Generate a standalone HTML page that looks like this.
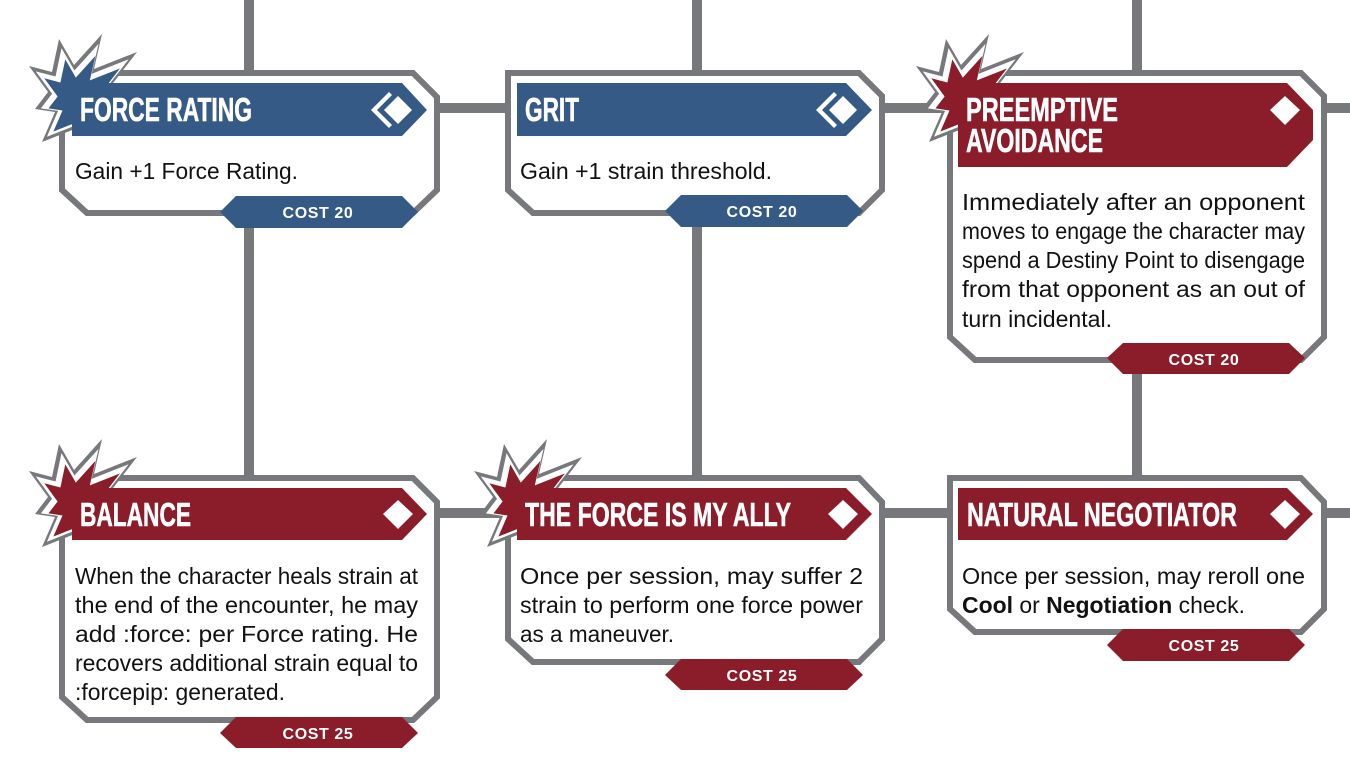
<!DOCTYPE html>
<html><head><meta charset="utf-8"><style>
html,body{margin:0;padding:0;background:#fff;}
svg{display:block;}
.h{font-family:"Liberation Sans Narrow","Liberation Sans",sans-serif;font-weight:bold;fill:#fff;font-size:33px;stroke:#fff;stroke-width:0.6;}
.b{font-family:"Liberation Sans Narrow","Liberation Sans",sans-serif;fill:#111;font-size:23px;}
.c{font-family:"Liberation Sans",sans-serif;font-weight:bold;fill:#fff;font-size:16px;letter-spacing:0.6px;}
</style></head><body>
<svg width="1350" height="777" viewBox="0 0 1350 777" xmlns="http://www.w3.org/2000/svg">
<defs>
<polygon id="star" points="-41,-31 -18,-25 -11,-58 4,-32 32,-63 24,-28 67,-45 40,-10 40,20 10,30 -28,45 -15,15 -35,12 -22,-5"/>
</defs>
<g fill="#77787b">
<rect x="244" y="0" width="10" height="480"/>
<rect x="692" y="0" width="10" height="480"/>
<rect x="1132" y="0" width="10" height="480"/>
<rect x="436" y="103" width="72" height="10"/>
<rect x="882" y="103" width="70" height="10"/>
<rect x="1323" y="103" width="27" height="10"/>
<rect x="436" y="508" width="72" height="10"/>
<rect x="882" y="508" width="70" height="10"/>
<rect x="1323" y="508" width="27" height="10"/>
</g>
<g fill="#fff" stroke="#77787b" stroke-width="6" stroke-linejoin="miter">
<path d="M62,73 L413,73 L437,97 L437,190 L413,213 L87,213 L62,190 Z"/>
<path d="M508,73 L859,73 L882,96 L882,190 L859,213 L533,213 L508,190 Z"/>
<path d="M950,73 L1301,73 L1324,96 L1324,337 L1301,360 L975,360 L950,337 Z"/>
<path d="M62,478 L413,478 L437,502 L437,697 L413,720 L87,720 L62,697 Z"/>
<path d="M508,478 L859,478 L882,502 L882,639 L859,662 L533,662 L508,639 Z"/>
<path d="M950,478 L1301,478 L1324,502 L1324,609 L1301,632 L975,632 L950,609 Z"/>
</g>
<g>
<use href="#star" transform="translate(70,97)" fill="#77787b"/>
<use href="#star" transform="translate(71,98) scale(0.86)" fill="#fff"/>
<use href="#star" transform="translate(73,100) scale(0.7)" fill="#365a86"/>
<use href="#star" transform="translate(957,97)" fill="#77787b"/>
<use href="#star" transform="translate(958,98) scale(0.86)" fill="#fff"/>
<use href="#star" transform="translate(960,100) scale(0.7)" fill="#8b1c2a"/>
<use href="#star" transform="translate(70,502)" fill="#77787b"/>
<use href="#star" transform="translate(71,503) scale(0.86)" fill="#fff"/>
<use href="#star" transform="translate(73,505) scale(0.7)" fill="#8b1c2a"/>
<use href="#star" transform="translate(515,502)" fill="#77787b"/>
<use href="#star" transform="translate(516,503) scale(0.86)" fill="#fff"/>
<use href="#star" transform="translate(518,505) scale(0.7)" fill="#8b1c2a"/>
</g>
<polygon fill="#365a86" points="72,83 402,83 427,110 402,136 72,136"/>
<polygon fill="#365a86" points="517,83 846,83 872,110 846,136 517,136"/>
<polygon fill="#8b1c2a" points="958,83 1287,83 1313,110 1313,140 1287,167 958,167"/>
<polygon fill="#8b1c2a" points="72,488 402,488 427,514 402,540 72,540"/>
<polygon fill="#8b1c2a" points="517,488 846,488 872,514 846,540 517,540"/>
<polygon fill="#8b1c2a" points="958,488 1287,488 1313,514 1287,540 958,540"/>
<g fill="#fff">
<polygon points="398,96 412,110 398,124 384,110"/>
<polygon points="389,92 392,95 377,110 392,125 389,128 371,110"/>
<polygon points="843,96 857,110 843,124 829,110"/>
<polygon points="834,92 837,95 822,110 837,125 834,128 816,110"/>
<polygon points="1285,96 1300,110 1285,125 1270,110"/>
<polygon points="398,500 413,514 398,529 383,514"/>
<polygon points="843,500 858,514 843,529 828,514"/>
<polygon points="1285,500 1300,514 1285,529 1270,514"/>
</g>
<text class="h" x="80" y="121" textLength="172" lengthAdjust="spacingAndGlyphs">FORCE RATING</text>
<text class="h" x="525" y="121" textLength="54" lengthAdjust="spacingAndGlyphs">GRIT</text>
<text class="h" x="966" y="121" textLength="152" lengthAdjust="spacingAndGlyphs">PREEMPTIVE</text>
<text class="h" x="966" y="152" textLength="137" lengthAdjust="spacingAndGlyphs">AVOIDANCE</text>
<text class="h" x="80" y="526" textLength="111" lengthAdjust="spacingAndGlyphs">BALANCE</text>
<text class="h" x="525" y="526" textLength="266" lengthAdjust="spacingAndGlyphs">THE FORCE IS MY ALLY</text>
<text class="h" x="967" y="526" textLength="270" lengthAdjust="spacingAndGlyphs">NATURAL NEGOTIATOR</text>
<text class="b" x="75" y="179" textLength="223" lengthAdjust="spacingAndGlyphs">Gain +1 Force Rating.</text>
<text class="b" x="520" y="179" textLength="252" lengthAdjust="spacingAndGlyphs">Gain +1 strain threshold.</text>
<text class="b" x="962" y="210" textLength="343" lengthAdjust="spacingAndGlyphs">Immediately after an opponent</text>
<text class="b" x="962" y="239" textLength="343" lengthAdjust="spacingAndGlyphs">moves to engage the character may</text>
<text class="b" x="962" y="268" textLength="343" lengthAdjust="spacingAndGlyphs">spend a Destiny Point to disengage</text>
<text class="b" x="962" y="297" textLength="343" lengthAdjust="spacingAndGlyphs">from that opponent as an out of</text>
<text class="b" x="962" y="327" textLength="150" lengthAdjust="spacingAndGlyphs">turn incidental.</text>
<text class="b" x="75" y="584" textLength="343" lengthAdjust="spacingAndGlyphs">When the character heals strain at</text>
<text class="b" x="75" y="613" textLength="343" lengthAdjust="spacingAndGlyphs">the end of the encounter, he may</text>
<text class="b" x="75" y="642" textLength="343" lengthAdjust="spacingAndGlyphs">add :force: per Force rating. He</text>
<text class="b" x="75" y="671" textLength="343" lengthAdjust="spacingAndGlyphs">recovers additional strain equal to</text>
<text class="b" x="75" y="700" textLength="210" lengthAdjust="spacingAndGlyphs">:forcepip: generated.</text>
<text class="b" x="520" y="584" textLength="343" lengthAdjust="spacingAndGlyphs">Once per session, may suffer 2</text>
<text class="b" x="520" y="613" textLength="343" lengthAdjust="spacingAndGlyphs">strain to perform one force power</text>
<text class="b" x="520" y="642" textLength="154" lengthAdjust="spacingAndGlyphs">as a maneuver.</text>
<text class="b" x="962" y="584" textLength="343" lengthAdjust="spacingAndGlyphs">Once per session, may reroll one</text>
<text class="b" x="962" y="613" textLength="283" lengthAdjust="spacingAndGlyphs"><tspan font-weight="bold">Cool</tspan> or <tspan font-weight="bold">Negotiation</tspan> check.</text>
<polygon fill="#365a86" points="220,212 236,196 402,196 418,212 402,228 236,228"/>
<polygon fill="#365a86" points="665,211 681,195 847,195 863,211 847,227 681,227"/>
<polygon fill="#8b1c2a" points="1107,358 1123,343 1289,343 1305,358 1289,374 1123,374"/>
<polygon fill="#8b1c2a" points="220,733 236,717 402,717 418,733 402,748 236,748"/>
<polygon fill="#8b1c2a" points="665,675 681,659 847,659 863,675 847,690 681,690"/>
<polygon fill="#8b1c2a" points="1107,645 1123,629 1289,629 1305,645 1289,661 1123,661"/>
<g text-anchor="middle">
<text class="c" x="318" y="218">COST 20</text>
<text class="c" x="762" y="217">COST 20</text>
<text class="c" x="1204" y="365">COST 20</text>
<text class="c" x="318" y="739">COST 25</text>
<text class="c" x="762" y="681">COST 25</text>
<text class="c" x="1204" y="651">COST 25</text>
</g>
</svg>
</body></html>
